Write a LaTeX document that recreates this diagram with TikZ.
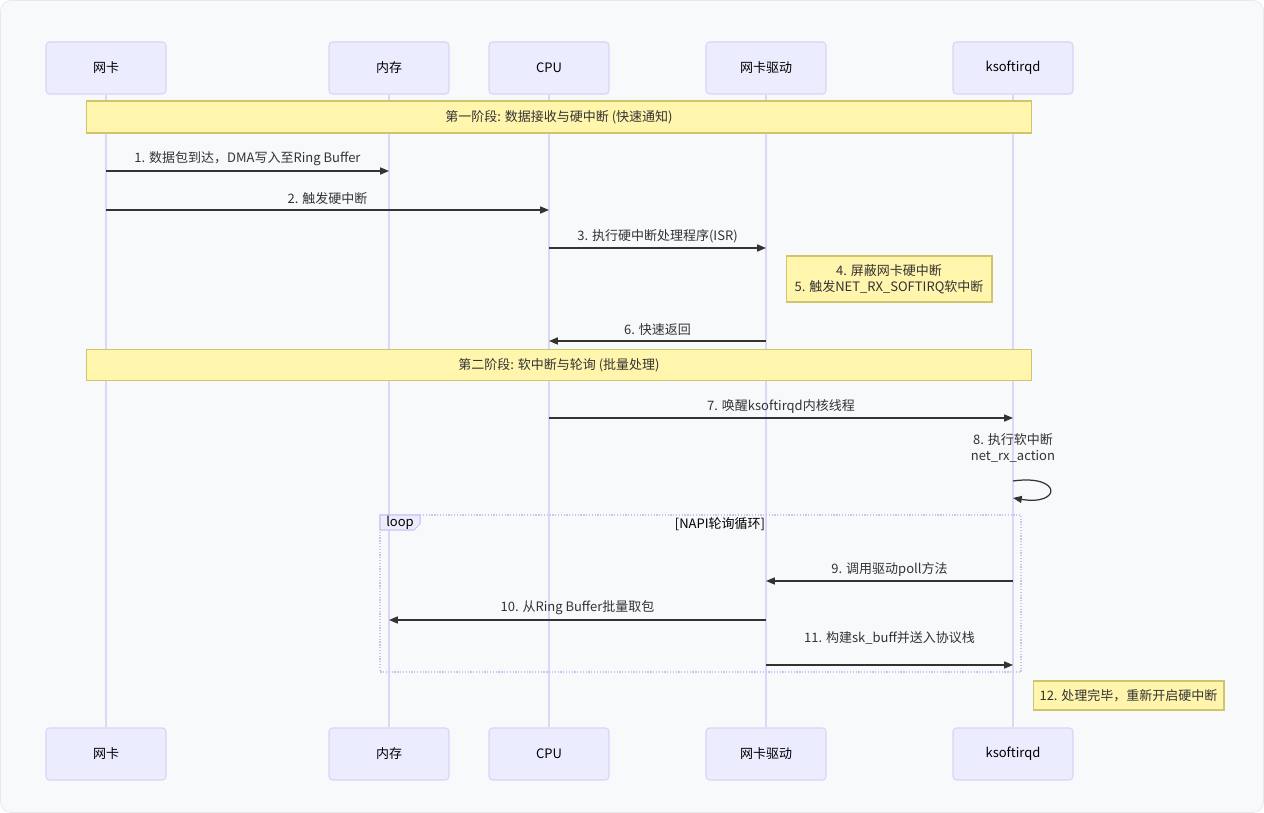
\documentclass[tikz,border=0pt]{standalone}
\usepackage{fontspec}
\setmainfont{Noto Sans CJK SC}
\usetikzlibrary{arrows.meta}

\definecolor{bgcol}{HTML}{F8F9FB}
\definecolor{framecol}{HTML}{E6E8EC}
\definecolor{actorfill}{HTML}{ECECFF}
\definecolor{actorline}{HTML}{D9D3F6}
\definecolor{lifecol}{HTML}{DDD6F6}
\definecolor{loopcol}{HTML}{CBC3F2}
\definecolor{notefill}{HTML}{FFF5AD}
\definecolor{noteline}{HTML}{CFC66B}
\definecolor{msgcol}{HTML}{333333}

\tikzset{
  actor/.style={draw=actorline, fill=actorfill, rounded corners=2pt, line width=0.6pt,
    minimum width=2.4cm, minimum height=1.04cm, text=black},
  life/.style={draw=lifecol, line width=0.9pt},
  note/.style={draw=noteline, fill=notefill, line width=0.6pt, text=msgcol},
  msg/.style={draw=msgcol, line width=0.7pt, -{Triangle[length=5pt,width=4pt]}},
  lbl/.style={above=1.5pt, text=msgcol, inner sep=1pt}
}

\begin{document}
\begin{tikzpicture}[x=0.02cm, y=-0.02cm, font=\fontsize{7.4}{9.4}\selectfont]
            % Background
            \useasboundingbox (0,0) rectangle (1264,813);
            \draw[framecol, fill=bgcol, rounded corners=6pt] (0.5,0.5) rectangle (1263.5,812.5);

            % Draw actors (top and bottom)
            \node[actor] (nk) at (106,68) {网卡};
            \node[actor] (mem) at (389,68) {内存};
            \node[actor] (cpu) at (549,68) {CPU};
            \node[actor] (drv) at (766,68) {网卡驱动};
            \node[actor] (ksi) at (1013,68) {ksoftirqd};
            \node[actor] (nkB) at (106,754) {网卡};
            \node[actor] (memB) at (389,754) {内存};
            \node[actor] (cpuB) at (549,754) {CPU};
            \node[actor] (drvB) at (766,754) {网卡驱动};
            \node[actor] (ksiB) at (1013,754) {ksoftirqd};

            % Draw lifelines
            \draw[life] (nk) -- (nkB);
            \draw[life] (mem) -- (memB);
            \draw[life] (cpu) -- (cpuB);
            \draw[life] (drv) -- (drvB);
            \draw[life] (ksi) -- (ksiB);

            % Phase one
            \node[note, minimum width=18.92cm, minimum height=0.64cm] (ph1) at (559,117) {第一阶段: 数据接收与硬中断 (快速通知)};

            % Messages 1-3
            \coordinate (m1s) at (106,171);
            \coordinate (m1e) at (389,171);
            \draw[msg] (m1s) -- node[lbl] (l1) {1. 数据包到达，DMA写入至Ring Buffer} (m1e);
            \coordinate (m2s) at (106,210);
            \coordinate (m2e) at (549,210);
            \draw[msg] (m2s) -- node[lbl] (l2) {2. 触发硬中断} (m2e);
            \coordinate (m3s) at (549,248);
            \coordinate (m3e) at (766,248);
            \draw[msg] (m3s) -- node[lbl] (l3) {3. 执行硬中断处理程序(ISR)} (m3e);

            % Note 4 and 5
            \node[note, align=center, minimum width=4.12cm, minimum height=0.92cm] (n45) at (889,279) {4. 屏蔽网卡硬中断\\5. 触发NET\_RX\_SOFTIRQ软中断};

            % Message 6
            \coordinate (m6s) at (766,341);
            \coordinate (m6e) at (549,341);
            \draw[msg] (m6s) -- node[lbl] (l6) {6. 快速返回} (m6e);

            % Phase two
            \node[note, minimum width=18.92cm, minimum height=0.62cm] (ph2) at (559,365) {第二阶段: 软中断与轮询 (批量处理)};

            % Message 7
            \coordinate (m7s) at (549,418);
            \coordinate (m7e) at (1013,418);
            \draw[msg] (m7s) -- node[lbl] (l7) {7. 唤醒ksoftirqd内核线程} (m7e);

            % Self call 8
            \node[text=msgcol, align=center, inner sep=0pt] (l8) at (1013,448) {8. 执行软中断\\net\_rx\_action};
            \coordinate (s8a) at (1013,481);
            \coordinate (s8b) at (1013,498);
            \draw[msg] (s8a) .. controls (1062,474) and (1062,506) .. (s8b);

            % Loop frame
            \draw[loopcol, line width=0.7pt, dash pattern=on 0.7pt off 0.9pt] (380,515) rectangle (1021,672);
            \draw[loopcol, line width=0.6pt, fill=actorfill] (380,515) -- (420,515) -- (420,524) -- (414,530) -- (380,530) -- cycle;
            \node[text=black] (lp) at (400,523) {loop};
            \node[text=black] (lpc) at (720,524) {[NAPI轮询循环]};

            % Messages 9-11
            \coordinate (m9s) at (1013,581);
            \coordinate (m9e) at (766,581);
            \draw[msg] (m9s) -- node[lbl] (l9) {9. 调用驱动poll方法} (m9e);
            \coordinate (m10s) at (766,620);
            \coordinate (m10e) at (389,620);
            \draw[msg] (m10s) -- node[lbl] (l10) {10. 从Ring Buffer批量取包} (m10e);
            \coordinate (m11s) at (766,665);
            \coordinate (m11e) at (1013,665);
            \draw[msg] (m11s) -- node[lbl, above=9pt] (l11) {11. 构建sk\_buff并送入协议栈} (m11e);

            % Note 12
            \node[note, minimum width=3.82cm, minimum height=0.58cm] (n12) at (1128.5,695.5) {12. 处理完毕，重新开启硬中断};
        \end{tikzpicture}
\end{document}
